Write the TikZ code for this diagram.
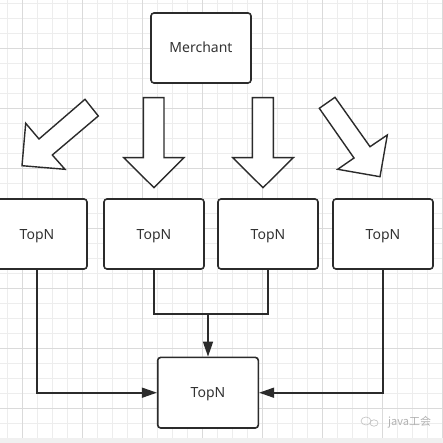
\documentclass[tikz,border=0pt]{standalone}
\usepackage{fontspec}
\setmainfont{Noto Sans}
\newfontfamily\cjk{Noto Sans CJK SC}
\usetikzlibrary{arrows.meta}
\definecolor{minorg}{HTML}{EDEDED}
\definecolor{majorg}{HTML}{DADADA}
\definecolor{ink}{HTML}{2B2B2B}
\definecolor{txt}{HTML}{333333}
\tikzset{
  box/.style={draw=ink, line width=1.6pt, rounded corners=3pt, fill=white, minimum width=100pt, minimum height=70pt, inner sep=0pt, font=\fontsize{14}{16}\selectfont, text=txt, text height=10pt, text depth=0pt},
  blockarrow/.style={draw=ink, line width=1.4pt, fill=white, line join=miter},
  conn/.style={draw=ink, line width=1.6pt, -{Triangle[length=15pt,width=10pt]}},
  link/.style={draw=ink, line width=1.6pt}
}
\begin{document}
\begin{tikzpicture}[x=1pt,y=-1pt]
\useasboundingbox (0,0) rectangle (443,443);
\begin{scope}
\clip (0,0) rectangle (443,443);
\fill[white] (0,0) rectangle (443,443);
% minor grid
\foreach \i in {0,...,29} {
  \draw[minorg, line width=0.8pt] ({7.3+15*\i},0) -- ({7.3+15*\i},443);
  \draw[minorg, line width=0.8pt] (0,{3.3+15*\i}) -- (443,{3.3+15*\i});
}
% major grid
\foreach \i in {0,...,7} {
  \draw[majorg, line width=0.8pt] ({22.3+60*\i},0) -- ({22.3+60*\i},443);
  \draw[majorg, line width=0.8pt] (0,{-11.7+60*\i}) -- (443,{-11.7+60*\i});
}
\fill[black!6] (0,438) rectangle (443,443);

% nodes
\node[box] (m) at (201,48) {Merchant};
\node[box] (t1) at (37,234) {TopN};
\node[box] (t2) at (154,234) {TopN};
\node[box] (t3) at (268,234) {TopN};
\node[box] (t4) at (383,234) {TopN};
\node[box, minimum width=100.6pt, minimum height=70.6pt] (b) at (208,392.7) {TopN};

% block arrows
\draw[blockarrow] (22,165.7) -- (25.7,123.3) -- (39,139) -- (85,99.3) -- (98.3,116) -- (52.3,155) -- (65,169.3) -- cycle;
\draw[blockarrow] (143.3,97.7) -- (164,97.7) -- (164,157.7) -- (184,157.7) -- (154,187.7) -- (123.7,157.7) -- (143.3,157.7) -- cycle;
\draw[blockarrow] (252.3,97.7) -- (273.3,97.7) -- (273.3,157.7) -- (293.3,157.7) -- (263,187.7) -- (232.7,157.7) -- (252.3,157.7) -- cycle;
\draw[blockarrow] (335,97.3) -- (370,146.7) -- (387.3,135) -- (380,176.7) -- (337.7,169.3) -- (354,158) -- (319.3,108.3) -- cycle;

% connectors
\coordinate (j) at (208,313.7);
\draw[conn] (t1.south) |- (b.west);
\draw[conn] (t4.south) |- (b.east);
\draw[link] (t2.south) |- (j) -| (t3.south);
\draw[conn] (j) -- (b.north);

% watermark
\node[text=black!30, font=\cjk\fontsize{11}{12}\selectfont, anchor=west, inner sep=0pt] (wm) at (388,422) {java工会};
\draw[black!25, line width=0.6pt] (366,421) ellipse (5pt and 4pt);
\draw[black!25, line width=0.6pt] (374,423) ellipse (4pt and 3.2pt);
\end{scope}
\end{tikzpicture}
\end{document}
